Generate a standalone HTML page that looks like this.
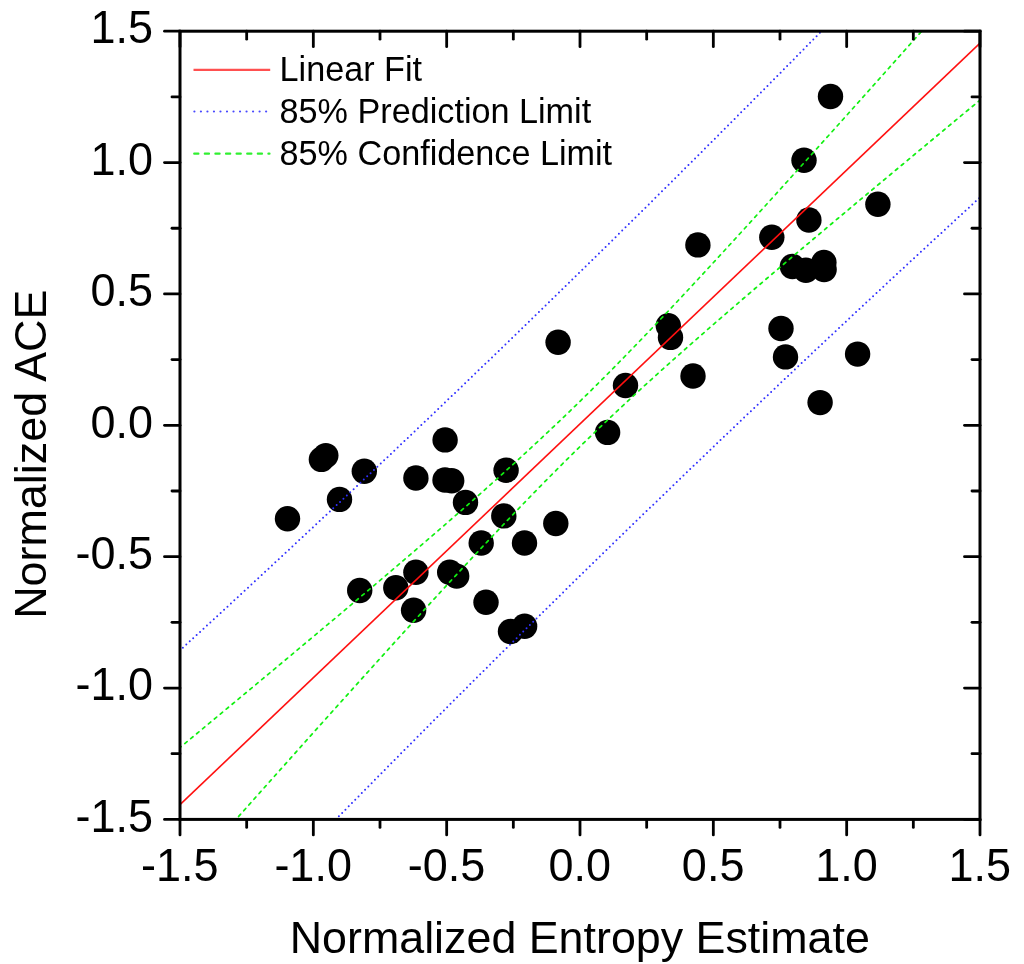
<!DOCTYPE html>
<html><head><meta charset="utf-8"><style>
html,body{margin:0;padding:0;background:#fff;}
svg{display:block;filter:blur(0.3px);}
text{font-family:"Liberation Sans",Arial,sans-serif;fill:#000;}
</style></head><body>
<svg width="1024" height="964" viewBox="0 0 1024 964">
<defs><clipPath id="c"><rect x="180.0" y="31.2" width="800.0" height="788.1999999999999"/></clipPath></defs>
<rect width="1024" height="964" fill="#fff"/>
<g fill="#000">

<circle cx="287.5" cy="518.75" r="12.7"/>
<circle cx="321.4" cy="459.4" r="12.7"/>
<circle cx="325.8" cy="455.6" r="12.7"/>
<circle cx="364.3" cy="471.25" r="12.7"/>
<circle cx="339.5" cy="499.4" r="12.7"/>
<circle cx="415.9" cy="478" r="12.7"/>
<circle cx="359.7" cy="590.5" r="12.7"/>
<circle cx="395.8" cy="587.7" r="12.7"/>
<circle cx="415.9" cy="572.2" r="12.7"/>
<circle cx="413.6" cy="610.2" r="12.7"/>
<circle cx="449.7" cy="572.2" r="12.7"/>
<circle cx="456.7" cy="576.1" r="12.7"/>
<circle cx="481.2" cy="543" r="12.7"/>
<circle cx="486" cy="602.2" r="12.7"/>
<circle cx="445.1" cy="439.9" r="12.7"/>
<circle cx="445" cy="480" r="12.7"/>
<circle cx="451.7" cy="480.8" r="12.7"/>
<circle cx="465.5" cy="502.4" r="12.7"/>
<circle cx="506.1" cy="470.2" r="12.7"/>
<circle cx="503.8" cy="515.9" r="12.7"/>
<circle cx="555.8" cy="523.5" r="12.7"/>
<circle cx="524.5" cy="543" r="12.7"/>
<circle cx="510.5" cy="631.5" r="12.7"/>
<circle cx="524.6" cy="626.3" r="12.7"/>
<circle cx="558.1" cy="342.3" r="12.7"/>
<circle cx="625.5" cy="385.5" r="12.7"/>
<circle cx="607.6" cy="432.4" r="12.7"/>
<circle cx="693" cy="376" r="12.7"/>
<circle cx="668.3" cy="325.8" r="12.7"/>
<circle cx="670.5" cy="337.4" r="12.7"/>
<circle cx="697.9" cy="244.9" r="12.7"/>
<circle cx="771.8" cy="237.2" r="12.7"/>
<circle cx="808.9" cy="220" r="12.7"/>
<circle cx="792.4" cy="266.5" r="12.7"/>
<circle cx="805.9" cy="270.3" r="12.7"/>
<circle cx="823.9" cy="262.4" r="12.7"/>
<circle cx="824.1" cy="269.5" r="12.7"/>
<circle cx="781" cy="328.5" r="12.7"/>
<circle cx="785.5" cy="356.9" r="12.7"/>
<circle cx="857.6" cy="354.1" r="12.7"/>
<circle cx="820.1" cy="402.6" r="12.7"/>
<circle cx="830.5" cy="96.5" r="12.7"/>
<circle cx="804" cy="160.2" r="12.7"/>
<circle cx="877.9" cy="204.2" r="12.7"/>
</g>
<g clip-path="url(#c)" fill="none">
<polyline points="826.40,26.20 824.43,28.20 822.47,30.20 820.50,32.20 818.53,34.20 816.56,36.20 814.59,38.20 812.62,40.20 810.65,42.20 808.68,44.20 806.70,46.21 804.73,48.21 802.76,50.21 800.78,52.21 798.81,54.21 796.83,56.21 794.86,58.21 792.88,60.21 790.90,62.21 788.93,64.21 786.95,66.21 784.97,68.21 782.99,70.21 781.01,72.21 779.03,74.21 777.05,76.21 775.06,78.21 773.08,80.21 771.10,82.21 769.12,84.21 767.13,86.22 765.15,88.22 763.16,90.22 761.17,92.22 759.19,94.22 757.20,96.22 755.21,98.22 753.22,100.22 751.23,102.22 749.24,104.22 747.25,106.22 745.26,108.22 743.27,110.22 741.28,112.22 739.29,114.22 737.29,116.22 735.30,118.22 733.30,120.22 731.31,122.22 729.31,124.22 727.31,126.23 725.32,128.23 723.32,130.23 721.32,132.23 719.32,134.23 717.32,136.23 715.32,138.23 713.32,140.23 711.32,142.23 709.31,144.23 707.31,146.23 705.31,148.23 703.30,150.23 701.30,152.23 699.29,154.23 697.28,156.23 695.28,158.23 693.27,160.23 691.26,162.23 689.25,164.23 687.24,166.24 685.23,168.24 683.22,170.24 681.21,172.24 679.20,174.24 677.18,176.24 675.17,178.24 673.15,180.24 671.14,182.24 669.12,184.24 667.11,186.24 665.09,188.24 663.07,190.24 661.05,192.24 659.03,194.24 657.01,196.24 654.99,198.24 652.97,200.24 650.95,202.24 648.93,204.24 646.90,206.25 644.88,208.25 642.86,210.25 640.83,212.25 638.80,214.25 636.78,216.25 634.75,218.25 632.72,220.25 630.69,222.25 628.66,224.25 626.63,226.25 624.60,228.25 622.57,230.25 620.54,232.25 618.51,234.25 616.47,236.25 614.44,238.25 612.40,240.25 610.37,242.25 608.33,244.25 606.30,246.26 604.26,248.26 602.22,250.26 600.18,252.26 598.14,254.26 596.10,256.26 594.06,258.26 592.02,260.26 589.97,262.26 587.93,264.26 585.89,266.26 583.84,268.26 581.80,270.26 579.75,272.26 577.70,274.26 575.66,276.26 573.61,278.26 571.56,280.26 569.51,282.26 567.46,284.26 565.41,286.27 563.35,288.27 561.30,290.27 559.25,292.27 557.19,294.27 555.14,296.27 553.08,298.27 551.03,300.27 548.97,302.27 546.91,304.27 544.86,306.27 542.80,308.27 540.74,310.27 538.68,312.27 536.61,314.27 534.55,316.27 532.49,318.27 530.43,320.27 528.36,322.27 526.30,324.27 524.23,326.28 522.17,328.28 520.10,330.28 518.03,332.28 515.96,334.28 513.89,336.28 511.82,338.28 509.75,340.28 507.68,342.28 505.61,344.28 503.54,346.28 501.46,348.28 499.39,350.28 497.31,352.28 495.24,354.28 493.16,356.28 491.08,358.28 489.01,360.28 486.93,362.28 484.85,364.28 482.77,366.29 480.69,368.29 478.60,370.29 476.52,372.29 474.44,374.29 472.36,376.29 470.27,378.29 468.19,380.29 466.10,382.29 464.01,384.29 461.92,386.29 459.84,388.29 457.75,390.29 455.66,392.29 453.57,394.29 451.48,396.29 449.38,398.29 447.29,400.29 445.20,402.29 443.10,404.29 441.01,406.30 438.91,408.30 436.82,410.30 434.72,412.30 432.62,414.30 430.52,416.30 428.42,418.30 426.32,420.30 424.22,422.30 422.12,424.30 420.02,426.30 417.92,428.30 415.81,430.30 413.71,432.30 411.60,434.30 409.50,436.30 407.39,438.30 405.28,440.30 403.17,442.30 401.06,444.30 398.95,446.31 396.84,448.31 394.73,450.31 392.62,452.31 390.51,454.31 388.40,456.31 386.28,458.31 384.17,460.31 382.05,462.31 379.93,464.31 377.82,466.31 375.70,468.31 373.58,470.31 371.46,472.31 369.34,474.31 367.22,476.31 365.10,478.31 362.98,480.31 360.85,482.31 358.73,484.31 356.61,486.32 354.48,488.32 352.36,490.32 350.23,492.32 348.10,494.32 345.97,496.32 343.84,498.32 341.71,500.32 339.58,502.32 337.45,504.32 335.32,506.32 333.19,508.32 331.06,510.32 328.92,512.32 326.79,514.32 324.65,516.32 322.52,518.32 320.38,520.32 318.24,522.32 316.10,524.32 313.96,526.33 311.82,528.33 309.68,530.33 307.54,532.33 305.40,534.33 303.26,536.33 301.12,538.33 298.97,540.33 296.83,542.33 294.68,544.33 292.53,546.33 290.39,548.33 288.24,550.33 286.09,552.33 283.94,554.33 281.79,556.33 279.64,558.33 277.49,560.33 275.34,562.33 273.19,564.33 271.03,566.34 268.88,568.34 266.72,570.34 264.57,572.34 262.41,574.34 260.26,576.34 258.10,578.34 255.94,580.34 253.78,582.34 251.62,584.34 249.46,586.34 247.30,588.34 245.14,590.34 242.97,592.34 240.81,594.34 238.65,596.34 236.48,598.34 234.32,600.34 232.15,602.34 229.98,604.34 227.82,606.35 225.65,608.35 223.48,610.35 221.31,612.35 219.14,614.35 216.97,616.35 214.80,618.35 212.62,620.35 210.45,622.35 208.28,624.35 206.10,626.35 203.93,628.35 201.75,630.35 199.58,632.35 197.40,634.35 195.22,636.35 193.04,638.35 190.86,640.35 188.68,642.35 186.50,644.35 184.32,646.36 182.14,648.36 179.96,650.36 177.77,652.36 175.59,654.36 173.40,656.36 171.22,658.36 169.03,660.36 166.85,662.36 164.66,664.36 162.47,666.36 160.28,668.36 158.09,670.36 155.90,672.36 153.71,674.36 151.52,676.36 149.33,678.36 147.14,680.36 144.94,682.36 142.75,684.36 140.55,686.37 138.36,688.37 136.16,690.37 133.97,692.37 131.77,694.37 129.57,696.37 127.37,698.37 125.17,700.37 122.97,702.37 120.77,704.37 118.57,706.37 116.37,708.37 114.17,710.37 111.96,712.37 109.76,714.37 107.56,716.37 105.35,718.37 103.15,720.37 100.94,722.37 98.73,724.37 96.53,726.38 94.32,728.38 92.11,730.38 89.90,732.38 87.69,734.38 85.48,736.38 83.27,738.38 81.05,740.38 78.84,742.38 76.63,744.38 74.42,746.38 72.20,748.38 69.99,750.38 67.77,752.38 65.55,754.38 63.34,756.38 61.12,758.38 58.90,760.38 56.68,762.38 54.46,764.38 52.24,766.39 50.02,768.39 47.80,770.39 45.58,772.39 43.36,774.39 41.13,776.39 38.91,778.39 36.69,780.39 34.46,782.39 32.24,784.39 30.01,786.39 27.78,788.39 25.56,790.39 23.33,792.39 21.10,794.39 18.87,796.39 16.64,798.39 14.41,800.39 12.18,802.39 9.95,804.39 7.72,806.40 5.48,808.40 3.25,810.40 1.02,812.40 -1.22,814.40 -3.45,816.40 -5.69,818.40 -7.92,820.40 -10.16,822.40 -12.40,824.40" stroke="#3030ff" stroke-width="2.0" stroke-dasharray="0 4.66" stroke-linecap="round"/>
<polyline points="1169.19,26.20 1166.95,28.20 1164.72,30.20 1162.48,32.20 1160.25,34.20 1158.02,36.20 1155.78,38.20 1153.55,40.20 1151.32,42.20 1149.09,44.20 1146.86,46.21 1144.63,48.21 1142.40,50.21 1140.17,52.21 1137.94,54.21 1135.71,56.21 1133.49,58.21 1131.26,60.21 1129.03,62.21 1126.81,64.21 1124.58,66.21 1122.36,68.21 1120.13,70.21 1117.91,72.21 1115.69,74.21 1113.47,76.21 1111.25,78.21 1109.03,80.21 1106.81,82.21 1104.59,84.21 1102.37,86.22 1100.15,88.22 1097.93,90.22 1095.71,92.22 1093.50,94.22 1091.28,96.22 1089.07,98.22 1086.85,100.22 1084.64,102.22 1082.43,104.22 1080.21,106.22 1078.00,108.22 1075.79,110.22 1073.58,112.22 1071.37,114.22 1069.16,116.22 1066.95,118.22 1064.74,120.22 1062.54,122.22 1060.33,124.22 1058.12,126.23 1055.92,128.23 1053.71,130.23 1051.51,132.23 1049.30,134.23 1047.10,136.23 1044.90,138.23 1042.70,140.23 1040.50,142.23 1038.30,144.23 1036.10,146.23 1033.90,148.23 1031.70,150.23 1029.50,152.23 1027.30,154.23 1025.11,156.23 1022.91,158.23 1020.71,160.23 1018.52,162.23 1016.33,164.23 1014.13,166.24 1011.94,168.24 1009.75,170.24 1007.56,172.24 1005.37,174.24 1003.18,176.24 1000.99,178.24 998.80,180.24 996.61,182.24 994.42,184.24 992.24,186.24 990.05,188.24 987.87,190.24 985.68,192.24 983.50,194.24 981.31,196.24 979.13,198.24 976.95,200.24 974.77,202.24 972.59,204.24 970.41,206.25 968.23,208.25 966.05,210.25 963.87,212.25 961.69,214.25 959.52,216.25 957.34,218.25 955.17,220.25 952.99,222.25 950.82,224.25 948.65,226.25 946.47,228.25 944.30,230.25 942.13,232.25 939.96,234.25 937.79,236.25 935.62,238.25 933.45,240.25 931.29,242.25 929.12,244.25 926.95,246.26 924.79,248.26 922.62,250.26 920.46,252.26 918.30,254.26 916.13,256.26 913.97,258.26 911.81,260.26 909.65,262.26 907.49,264.26 905.33,266.26 903.17,268.26 901.02,270.26 898.86,272.26 896.70,274.26 894.55,276.26 892.39,278.26 890.24,280.26 888.09,282.26 885.93,284.26 883.78,286.27 881.63,288.27 879.48,290.27 877.33,292.27 875.18,294.27 873.03,296.27 870.88,298.27 868.74,300.27 866.59,302.27 864.45,304.27 862.30,306.27 860.16,308.27 858.01,310.27 855.87,312.27 853.73,314.27 851.59,316.27 849.45,318.27 847.31,320.27 845.17,322.27 843.03,324.27 840.89,326.28 838.76,328.28 836.62,330.28 834.48,332.28 832.35,334.28 830.22,336.28 828.08,338.28 825.95,340.28 823.82,342.28 821.69,344.28 819.56,346.28 817.43,348.28 815.30,350.28 813.17,352.28 811.04,354.28 808.92,356.28 806.79,358.28 804.67,360.28 802.54,362.28 800.42,364.28 798.30,366.29 796.17,368.29 794.05,370.29 791.93,372.29 789.81,374.29 787.69,376.29 785.57,378.29 783.46,380.29 781.34,382.29 779.22,384.29 777.11,386.29 774.99,388.29 772.88,390.29 770.76,392.29 768.65,394.29 766.54,396.29 764.43,398.29 762.32,400.29 760.21,402.29 758.10,404.29 755.99,406.30 753.88,408.30 751.78,410.30 749.67,412.30 747.57,414.30 745.46,416.30 743.36,418.30 741.25,420.30 739.15,422.30 737.05,424.30 734.95,426.30 732.85,428.30 730.75,430.30 728.65,432.30 726.55,434.30 724.46,436.30 722.36,438.30 720.27,440.30 718.17,442.30 716.08,444.30 713.98,446.31 711.89,448.31 709.80,450.31 707.71,452.31 705.62,454.31 703.53,456.31 701.44,458.31 699.35,460.31 697.26,462.31 695.18,464.31 693.09,466.31 691.00,468.31 688.92,470.31 686.84,472.31 684.75,474.31 682.67,476.31 680.59,478.31 678.51,480.31 676.43,482.31 674.35,484.31 672.27,486.32 670.19,488.32 668.11,490.32 666.04,492.32 663.96,494.32 661.89,496.32 659.81,498.32 657.74,500.32 655.67,502.32 653.59,504.32 651.52,506.32 649.45,508.32 647.38,510.32 645.31,512.32 643.24,514.32 641.18,516.32 639.11,518.32 637.04,520.32 634.98,522.32 632.91,524.32 630.85,526.33 628.79,528.33 626.72,530.33 624.66,532.33 622.60,534.33 620.54,536.33 618.48,538.33 616.42,540.33 614.36,542.33 612.30,544.33 610.25,546.33 608.19,548.33 606.14,550.33 604.08,552.33 602.03,554.33 599.97,556.33 597.92,558.33 595.87,560.33 593.82,562.33 591.77,564.33 589.72,566.34 587.67,568.34 585.62,570.34 583.57,572.34 581.53,574.34 579.48,576.34 577.43,578.34 575.39,580.34 573.35,582.34 571.30,584.34 569.26,586.34 567.22,588.34 565.18,590.34 563.14,592.34 561.10,594.34 559.06,596.34 557.02,598.34 554.98,600.34 552.94,602.34 550.91,604.34 548.87,606.35 546.84,608.35 544.80,610.35 542.77,612.35 540.74,614.35 538.70,616.35 536.67,618.35 534.64,620.35 532.61,622.35 530.58,624.35 528.55,626.35 526.53,628.35 524.50,630.35 522.47,632.35 520.45,634.35 518.42,636.35 516.40,638.35 514.37,640.35 512.35,642.35 510.33,644.35 508.31,646.36 506.28,648.36 504.26,650.36 502.24,652.36 500.22,654.36 498.21,656.36 496.19,658.36 494.17,660.36 492.15,662.36 490.14,664.36 488.12,666.36 486.11,668.36 484.10,670.36 482.08,672.36 480.07,674.36 478.06,676.36 476.05,678.36 474.04,680.36 472.03,682.36 470.02,684.36 468.01,686.37 466.00,688.37 463.99,690.37 461.99,692.37 459.98,694.37 457.98,696.37 455.97,698.37 453.97,700.37 451.97,702.37 449.96,704.37 447.96,706.37 445.96,708.37 443.96,710.37 441.96,712.37 439.96,714.37 437.96,716.37 435.96,718.37 433.96,720.37 431.97,722.37 429.97,724.37 427.98,726.38 425.98,728.38 423.99,730.38 421.99,732.38 420.00,734.38 418.01,736.38 416.02,738.38 414.03,740.38 412.03,742.38 410.04,744.38 408.06,746.38 406.07,748.38 404.08,750.38 402.09,752.38 400.10,754.38 398.12,756.38 396.13,758.38 394.15,760.38 392.16,762.38 390.18,764.38 388.20,766.39 386.21,768.39 384.23,770.39 382.25,772.39 380.27,774.39 378.29,776.39 376.31,778.39 374.33,780.39 372.35,782.39 370.38,784.39 368.40,786.39 366.42,788.39 364.45,790.39 362.47,792.39 360.50,794.39 358.52,796.39 356.55,798.39 354.58,800.39 352.60,802.39 350.63,804.39 348.66,806.40 346.69,808.40 344.72,810.40 342.75,812.40 340.78,814.40 338.81,816.40 336.85,818.40 334.88,820.40 332.91,822.40 330.95,824.40" stroke="#3030ff" stroke-width="2.0" stroke-dasharray="0 4.66" stroke-linecap="round"/>
<polyline points="926.16,26.20 924.38,28.20 922.60,30.20 920.82,32.20 919.04,34.20 917.26,36.20 915.48,38.20 913.70,40.20 911.92,42.20 910.14,44.20 908.36,46.21 906.58,48.21 904.79,50.21 903.01,52.21 901.23,54.21 899.45,56.21 897.67,58.21 895.88,60.21 894.10,62.21 892.32,64.21 890.53,66.21 888.75,68.21 886.97,70.21 885.18,72.21 883.40,74.21 881.61,76.21 879.83,78.21 878.04,80.21 876.26,82.21 874.47,84.21 872.69,86.22 870.90,88.22 869.12,90.22 867.33,92.22 865.54,94.22 863.75,96.22 861.97,98.22 860.18,100.22 858.39,102.22 856.60,104.22 854.81,106.22 853.03,108.22 851.24,110.22 849.45,112.22 847.66,114.22 845.87,116.22 844.08,118.22 842.29,120.22 840.49,122.22 838.70,124.22 836.91,126.23 835.12,128.23 833.33,130.23 831.53,132.23 829.74,134.23 827.94,136.23 826.15,138.23 824.36,140.23 822.56,142.23 820.76,144.23 818.97,146.23 817.17,148.23 815.38,150.23 813.58,152.23 811.78,154.23 809.98,156.23 808.18,158.23 806.38,160.23 804.58,162.23 802.78,164.23 800.98,166.24 799.18,168.24 797.38,170.24 795.58,172.24 793.78,174.24 791.97,176.24 790.17,178.24 788.36,180.24 786.56,182.24 784.75,184.24 782.95,186.24 781.14,188.24 779.33,190.24 777.52,192.24 775.71,194.24 773.90,196.24 772.09,198.24 770.28,200.24 768.47,202.24 766.66,204.24 764.85,206.25 763.03,208.25 761.22,210.25 759.40,212.25 757.58,214.25 755.77,216.25 753.95,218.25 752.13,220.25 750.31,222.25 748.49,224.25 746.67,226.25 744.85,228.25 743.02,230.25 741.20,232.25 739.37,234.25 737.55,236.25 735.72,238.25 733.89,240.25 732.06,242.25 730.23,244.25 728.40,246.26 726.56,248.26 724.73,250.26 722.90,252.26 721.06,254.26 719.22,256.26 717.38,258.26 715.54,260.26 713.70,262.26 711.86,264.26 710.01,266.26 708.17,268.26 706.32,270.26 704.47,272.26 702.62,274.26 700.77,276.26 698.91,278.26 697.06,280.26 695.20,282.26 693.34,284.26 691.48,286.27 689.62,288.27 687.76,290.27 685.89,292.27 684.02,294.27 682.16,296.27 680.28,298.27 678.41,300.27 676.54,302.27 674.66,304.27 672.78,306.27 670.90,308.27 669.01,310.27 667.13,312.27 665.24,314.27 663.35,316.27 661.45,318.27 659.56,320.27 657.66,322.27 655.76,324.27 653.85,326.28 651.95,328.28 650.04,330.28 648.12,332.28 646.21,334.28 644.29,336.28 642.37,338.28 640.45,340.28 638.52,342.28 636.59,344.28 634.66,346.28 632.72,348.28 630.78,350.28 628.83,352.28 626.89,354.28 624.94,356.28 622.98,358.28 621.02,360.28 619.06,362.28 617.10,364.28 615.13,366.29 613.16,368.29 611.18,370.29 609.20,372.29 607.21,374.29 605.22,376.29 603.23,378.29 601.23,380.29 599.23,382.29 597.22,384.29 595.21,386.29 593.20,388.29 591.18,390.29 589.15,392.29 587.12,394.29 585.09,396.29 583.05,398.29 581.01,400.29 578.96,402.29 576.91,404.29 574.85,406.30 572.79,408.30 570.72,410.30 568.65,412.30 566.57,414.30 564.49,416.30 562.40,418.30 560.31,420.30 558.21,422.30 556.11,424.30 554.01,426.30 551.89,428.30 549.78,430.30 547.66,432.30 545.53,434.30 543.40,436.30 541.26,438.30 539.12,440.30 536.98,442.30 534.82,444.30 532.67,446.31 530.51,448.31 528.34,450.31 526.17,452.31 524.00,454.31 521.82,456.31 519.64,458.31 517.45,460.31 515.26,462.31 513.06,464.31 510.86,466.31 508.65,468.31 506.44,470.31 504.23,472.31 502.01,474.31 499.79,476.31 497.56,478.31 495.33,480.31 493.10,482.31 490.86,484.31 488.62,486.32 486.37,488.32 484.13,490.32 481.87,492.32 479.62,494.32 477.36,496.32 475.09,498.32 472.83,500.32 470.56,502.32 468.29,504.32 466.01,506.32 463.73,508.32 461.45,510.32 459.16,512.32 456.87,514.32 454.58,516.32 452.29,518.32 449.99,520.32 447.69,522.32 445.39,524.32 443.09,526.33 440.78,528.33 438.47,530.33 436.16,532.33 433.84,534.33 431.53,536.33 429.21,538.33 426.89,540.33 424.56,542.33 422.24,544.33 419.91,546.33 417.58,548.33 415.25,550.33 412.91,552.33 410.58,554.33 408.24,556.33 405.90,558.33 403.56,560.33 401.22,562.33 398.87,564.33 396.53,566.34 394.18,568.34 391.83,570.34 389.48,572.34 387.12,574.34 384.77,576.34 382.41,578.34 380.06,580.34 377.70,582.34 375.34,584.34 372.98,586.34 370.61,588.34 368.25,590.34 365.88,592.34 363.52,594.34 361.15,596.34 358.78,598.34 356.41,600.34 354.04,602.34 351.67,604.34 349.29,606.35 346.92,608.35 344.54,610.35 342.17,612.35 339.79,614.35 337.41,616.35 335.03,618.35 332.65,620.35 330.27,622.35 327.88,624.35 325.50,626.35 323.12,628.35 320.73,630.35 318.35,632.35 315.96,634.35 313.57,636.35 311.18,638.35 308.79,640.35 306.40,642.35 304.01,644.35 301.62,646.36 299.23,648.36 296.84,650.36 294.44,652.36 292.05,654.36 289.66,656.36 287.26,658.36 284.86,660.36 282.47,662.36 280.07,664.36 277.67,666.36 275.27,668.36 272.87,670.36 270.47,672.36 268.07,674.36 265.67,676.36 263.27,678.36 260.87,680.36 258.47,682.36 256.06,684.36 253.66,686.37 251.26,688.37 248.85,690.37 246.45,692.37 244.04,694.37 241.64,696.37 239.23,698.37 236.82,700.37 234.42,702.37 232.01,704.37 229.60,706.37 227.19,708.37 224.78,710.37 222.37,712.37 219.96,714.37 217.55,716.37 215.14,718.37 212.73,720.37 210.32,722.37 207.91,724.37 205.50,726.38 203.09,728.38 200.67,730.38 198.26,732.38 195.85,734.38 193.43,736.38 191.02,738.38 188.61,740.38 186.19,742.38 183.78,744.38 181.36,746.38 178.95,748.38 176.53,750.38 174.12,752.38 171.70,754.38 169.28,756.38 166.87,758.38 164.45,760.38 162.03,762.38 159.61,764.38 157.20,766.39 154.78,768.39 152.36,770.39 149.94,772.39 147.52,774.39 145.10,776.39 142.68,778.39 140.26,780.39 137.84,782.39 135.42,784.39 133.00,786.39 130.58,788.39 128.16,790.39 125.74,792.39 123.32,794.39 120.90,796.39 118.48,798.39 116.06,800.39 113.63,802.39 111.21,804.39 108.79,806.40 106.37,808.40 103.94,810.40 101.52,812.40 99.10,814.40 96.67,816.40 94.25,818.40 91.83,820.40 89.40,822.40 86.98,824.40" stroke="#10f010" stroke-width="1.7" stroke-dasharray="3 4.69" stroke-linecap="round"/>
<polyline points="1069.43,26.20 1067.01,28.20 1064.59,30.20 1062.16,32.20 1059.74,34.20 1057.32,36.20 1054.89,38.20 1052.47,40.20 1050.05,42.20 1047.63,44.20 1045.20,46.21 1042.78,48.21 1040.36,50.21 1037.94,52.21 1035.52,54.21 1033.10,56.21 1030.68,58.21 1028.26,60.21 1025.84,62.21 1023.42,64.21 1021.00,66.21 1018.58,68.21 1016.16,70.21 1013.74,72.21 1011.32,74.21 1008.90,76.21 1006.48,78.21 1004.06,80.21 1001.65,82.21 999.23,84.21 996.81,86.22 994.39,88.22 991.98,90.22 989.56,92.22 987.14,94.22 984.73,96.22 982.31,98.22 979.90,100.22 977.48,102.22 975.07,104.22 972.65,106.22 970.24,108.22 967.82,110.22 965.41,112.22 963.00,114.22 960.59,116.22 958.17,118.22 955.76,120.22 953.35,122.22 950.94,124.22 948.53,126.23 946.12,128.23 943.71,130.23 941.30,132.23 938.89,134.23 936.48,136.23 934.07,138.23 931.66,140.23 929.25,142.23 926.84,144.23 924.44,146.23 922.03,148.23 919.62,150.23 917.22,152.23 914.81,154.23 912.41,156.23 910.00,158.23 907.60,160.23 905.20,162.23 902.79,164.23 900.39,166.24 897.99,168.24 895.59,170.24 893.19,172.24 890.79,174.24 888.39,176.24 885.99,178.24 883.59,180.24 881.19,182.24 878.79,184.24 876.40,186.24 874.00,188.24 871.61,190.24 869.21,192.24 866.82,194.24 864.42,196.24 862.03,198.24 859.64,200.24 857.25,202.24 854.86,204.24 852.47,206.25 850.08,208.25 847.69,210.25 845.30,212.25 842.91,214.25 840.53,216.25 838.14,218.25 835.76,220.25 833.38,222.25 830.99,224.25 828.61,226.25 826.23,228.25 823.85,230.25 821.47,232.25 819.10,234.25 816.72,236.25 814.34,238.25 811.97,240.25 809.60,242.25 807.22,244.25 804.85,246.26 802.48,248.26 800.11,250.26 797.74,252.26 795.38,254.26 793.01,256.26 790.65,258.26 788.29,260.26 785.92,262.26 783.56,264.26 781.21,266.26 778.85,268.26 776.49,270.26 774.14,272.26 771.79,274.26 769.44,276.26 767.09,278.26 764.74,280.26 762.39,282.26 760.05,284.26 757.70,286.27 755.36,288.27 753.02,290.27 750.69,292.27 748.35,294.27 746.02,296.27 743.68,298.27 741.35,300.27 739.03,302.27 736.70,304.27 734.38,306.27 732.06,308.27 729.74,310.27 727.42,312.27 725.11,314.27 722.79,316.27 720.49,318.27 718.18,320.27 715.87,322.27 713.57,324.27 711.27,326.28 708.98,328.28 706.68,330.28 704.39,332.28 702.10,334.28 699.82,336.28 697.54,338.28 695.26,340.28 692.98,342.28 690.71,344.28 688.44,346.28 686.17,348.28 683.91,350.28 681.65,352.28 679.39,354.28 677.14,356.28 674.89,358.28 672.65,360.28 670.41,362.28 668.17,364.28 665.93,366.29 663.70,368.29 661.48,370.29 659.26,372.29 657.04,374.29 654.82,376.29 652.62,378.29 650.41,380.29 648.21,382.29 646.01,384.29 643.82,386.29 641.63,388.29 639.45,390.29 637.27,392.29 635.10,394.29 632.93,396.29 630.76,398.29 628.60,400.29 626.45,402.29 624.30,404.29 622.15,406.30 620.01,408.30 617.87,410.30 615.74,412.30 613.62,414.30 611.50,416.30 609.38,418.30 607.27,420.30 605.16,422.30 603.06,424.30 600.96,426.30 598.87,428.30 596.79,430.30 594.70,432.30 592.63,434.30 590.56,436.30 588.49,438.30 586.43,440.30 584.37,442.30 582.32,444.30 580.27,446.31 578.23,448.31 576.19,450.31 574.15,452.31 572.13,454.31 570.10,456.31 568.08,458.31 566.07,460.31 564.06,462.31 562.05,464.31 560.05,466.31 558.05,468.31 556.06,470.31 554.07,472.31 552.08,474.31 550.10,476.31 548.12,478.31 546.15,480.31 544.18,482.31 542.22,484.31 540.26,486.32 538.30,488.32 536.34,490.32 534.39,492.32 532.45,494.32 530.50,496.32 528.56,498.32 526.63,500.32 524.69,502.32 522.76,504.32 520.84,506.32 518.91,508.32 516.99,510.32 515.07,512.32 513.16,514.32 511.25,516.32 509.34,518.32 507.43,520.32 505.53,522.32 503.63,524.32 501.73,526.33 499.83,528.33 497.94,530.33 496.05,532.33 494.16,534.33 492.27,536.33 490.39,538.33 488.51,540.33 486.63,542.33 484.75,544.33 482.87,546.33 481.00,548.33 479.13,550.33 477.26,552.33 475.39,554.33 473.53,556.33 471.66,558.33 469.80,560.33 467.94,562.33 466.08,564.33 464.23,566.34 462.37,568.34 460.52,570.34 458.67,572.34 456.82,574.34 454.97,576.34 453.12,578.34 451.27,580.34 449.43,582.34 447.59,584.34 445.74,586.34 443.90,588.34 442.06,590.34 440.23,592.34 438.39,594.34 436.56,596.34 434.72,598.34 432.89,600.34 431.06,602.34 429.23,604.34 427.40,606.35 425.57,608.35 423.74,610.35 421.91,612.35 420.09,614.35 418.26,616.35 416.44,618.35 414.62,620.35 412.80,622.35 410.98,624.35 409.16,626.35 407.34,628.35 405.52,630.35 403.70,632.35 401.89,634.35 400.07,636.35 398.26,638.35 396.44,640.35 394.63,642.35 392.82,644.35 391.00,646.36 389.19,648.36 387.38,650.36 385.57,652.36 383.76,654.36 381.96,656.36 380.15,658.36 378.34,660.36 376.53,662.36 374.73,664.36 372.92,666.36 371.12,668.36 369.32,670.36 367.51,672.36 365.71,674.36 363.91,676.36 362.10,678.36 360.30,680.36 358.50,682.36 356.70,684.36 354.90,686.37 353.10,688.37 351.31,690.37 349.51,692.37 347.71,694.37 345.91,696.37 344.11,698.37 342.32,700.37 340.52,702.37 338.73,704.37 336.93,706.37 335.14,708.37 333.34,710.37 331.55,712.37 329.76,714.37 327.96,716.37 326.17,718.37 324.38,720.37 322.59,722.37 320.79,724.37 319.00,726.38 317.21,728.38 315.42,730.38 313.63,732.38 311.84,734.38 310.05,736.38 308.26,738.38 306.47,740.38 304.68,742.38 302.90,744.38 301.11,746.38 299.32,748.38 297.53,750.38 295.75,752.38 293.96,754.38 292.17,756.38 290.39,758.38 288.60,760.38 286.81,762.38 285.03,764.38 283.24,766.39 281.46,768.39 279.67,770.39 277.89,772.39 276.11,774.39 274.32,776.39 272.54,778.39 270.75,780.39 268.97,782.39 267.19,784.39 265.41,786.39 263.62,788.39 261.84,790.39 260.06,792.39 258.28,794.39 256.49,796.39 254.71,798.39 252.93,800.39 251.15,802.39 249.37,804.39 247.59,806.40 245.81,808.40 244.03,810.40 242.25,812.40 240.47,814.40 238.69,816.40 236.91,818.40 235.13,820.40 233.35,822.40 231.57,824.40" stroke="#10f010" stroke-width="1.7" stroke-dasharray="3 4.69" stroke-linecap="round"/>
<line x1="159.27" y1="824.4" x2="997.80" y2="26.2" stroke="#ff1010" stroke-width="1.6"/>
</g>
<g stroke="#000" stroke-width="3.0" fill="none" stroke-linecap="square">
<rect x="180.0" y="31.2" width="800.0" height="788.1999999999999"/>
</g>
<g stroke="#000" stroke-width="2.8" stroke-linecap="round">
<line x1="180.00" y1="819.4" x2="180.00" y2="834.9"/>
<line x1="180.00" y1="31.2" x2="180.00" y2="46.7"/>
<line x1="180.0" y1="819.40" x2="164.5" y2="819.40"/>
<line x1="980.0" y1="819.40" x2="964.5" y2="819.40"/>
<line x1="246.67" y1="819.4" x2="246.67" y2="827.4"/>
<line x1="246.67" y1="31.2" x2="246.67" y2="39.2"/>
<line x1="180.0" y1="753.72" x2="172.0" y2="753.72"/>
<line x1="980.0" y1="753.72" x2="972.0" y2="753.72"/>
<line x1="313.33" y1="819.4" x2="313.33" y2="834.9"/>
<line x1="313.33" y1="31.2" x2="313.33" y2="46.7"/>
<line x1="180.0" y1="688.03" x2="164.5" y2="688.03"/>
<line x1="980.0" y1="688.03" x2="964.5" y2="688.03"/>
<line x1="380.00" y1="819.4" x2="380.00" y2="827.4"/>
<line x1="380.00" y1="31.2" x2="380.00" y2="39.2"/>
<line x1="180.0" y1="622.35" x2="172.0" y2="622.35"/>
<line x1="980.0" y1="622.35" x2="972.0" y2="622.35"/>
<line x1="446.67" y1="819.4" x2="446.67" y2="834.9"/>
<line x1="446.67" y1="31.2" x2="446.67" y2="46.7"/>
<line x1="180.0" y1="556.67" x2="164.5" y2="556.67"/>
<line x1="980.0" y1="556.67" x2="964.5" y2="556.67"/>
<line x1="513.33" y1="819.4" x2="513.33" y2="827.4"/>
<line x1="513.33" y1="31.2" x2="513.33" y2="39.2"/>
<line x1="180.0" y1="490.98" x2="172.0" y2="490.98"/>
<line x1="980.0" y1="490.98" x2="972.0" y2="490.98"/>
<line x1="580.00" y1="819.4" x2="580.00" y2="834.9"/>
<line x1="580.00" y1="31.2" x2="580.00" y2="46.7"/>
<line x1="180.0" y1="425.30" x2="164.5" y2="425.30"/>
<line x1="980.0" y1="425.30" x2="964.5" y2="425.30"/>
<line x1="646.67" y1="819.4" x2="646.67" y2="827.4"/>
<line x1="646.67" y1="31.2" x2="646.67" y2="39.2"/>
<line x1="180.0" y1="359.62" x2="172.0" y2="359.62"/>
<line x1="980.0" y1="359.62" x2="972.0" y2="359.62"/>
<line x1="713.33" y1="819.4" x2="713.33" y2="834.9"/>
<line x1="713.33" y1="31.2" x2="713.33" y2="46.7"/>
<line x1="180.0" y1="293.93" x2="164.5" y2="293.93"/>
<line x1="980.0" y1="293.93" x2="964.5" y2="293.93"/>
<line x1="780.00" y1="819.4" x2="780.00" y2="827.4"/>
<line x1="780.00" y1="31.2" x2="780.00" y2="39.2"/>
<line x1="180.0" y1="228.25" x2="172.0" y2="228.25"/>
<line x1="980.0" y1="228.25" x2="972.0" y2="228.25"/>
<line x1="846.67" y1="819.4" x2="846.67" y2="834.9"/>
<line x1="846.67" y1="31.2" x2="846.67" y2="46.7"/>
<line x1="180.0" y1="162.57" x2="164.5" y2="162.57"/>
<line x1="980.0" y1="162.57" x2="964.5" y2="162.57"/>
<line x1="913.33" y1="819.4" x2="913.33" y2="827.4"/>
<line x1="913.33" y1="31.2" x2="913.33" y2="39.2"/>
<line x1="180.0" y1="96.88" x2="172.0" y2="96.88"/>
<line x1="980.0" y1="96.88" x2="972.0" y2="96.88"/>
<line x1="980.00" y1="819.4" x2="980.00" y2="834.9"/>
<line x1="980.00" y1="31.2" x2="980.00" y2="46.7"/>
<line x1="180.0" y1="31.20" x2="164.5" y2="31.20"/>
<line x1="980.0" y1="31.20" x2="964.5" y2="31.20"/>
</g>
<g font-size="45">
<text transform="translate(179.80,880.7) scale(1.0,1.025)" text-anchor="middle">-1.5</text>
<text transform="translate(153,831.60) scale(1.0,1.025)" text-anchor="end">-1.5</text>
<text transform="translate(313.13,880.7) scale(1.0,1.025)" text-anchor="middle">-1.0</text>
<text transform="translate(153,700.23) scale(1.0,1.025)" text-anchor="end">-1.0</text>
<text transform="translate(446.47,880.7) scale(1.0,1.025)" text-anchor="middle">-0.5</text>
<text transform="translate(153,568.87) scale(1.0,1.025)" text-anchor="end">-0.5</text>
<text transform="translate(579.80,880.7) scale(1.0,1.025)" text-anchor="middle">0.0</text>
<text transform="translate(153,437.50) scale(1.0,1.025)" text-anchor="end">0.0</text>
<text transform="translate(713.13,880.7) scale(1.0,1.025)" text-anchor="middle">0.5</text>
<text transform="translate(153,306.13) scale(1.0,1.025)" text-anchor="end">0.5</text>
<text transform="translate(846.47,880.7) scale(1.0,1.025)" text-anchor="middle">1.0</text>
<text transform="translate(153,174.77) scale(1.0,1.025)" text-anchor="end">1.0</text>
<text transform="translate(979.80,880.7) scale(1.0,1.025)" text-anchor="middle">1.5</text>
<text transform="translate(153,43.40) scale(1.0,1.025)" text-anchor="end">1.5</text>
</g>
<text x="579.8" y="953.2" font-size="44.8" text-anchor="middle">Normalized Entropy Estimate</text>
<text transform="translate(46.1,454.2) rotate(-90)" font-size="44.9" text-anchor="middle">Normalized ACE</text>
<g fill="none">
<line x1="193.5" y1="69.8" x2="270.2" y2="69.8" stroke="#ff5050" stroke-width="2.2"/>
<line x1="194.4" y1="111.5" x2="266.5" y2="111.5" stroke="#4848ff" stroke-width="2.2" stroke-dasharray="0 6.52" stroke-linecap="round"/>
<line x1="194.2" y1="153.7" x2="269.5" y2="153.7" stroke="#30f030" stroke-width="2.2" stroke-dasharray="4.2 6.4" stroke-linecap="round"/>
</g>
<g font-size="34.2">
<text transform="translate(279.6,81.0) scale(1,1.05)">Linear Fit</text>
<text transform="translate(279.6,123.4) scale(1,1.05)">85% Prediction Limit</text>
<text transform="translate(279.6,164.6) scale(1,1.05)">85% Confidence Limit</text>
</g>
</svg></body></html>
